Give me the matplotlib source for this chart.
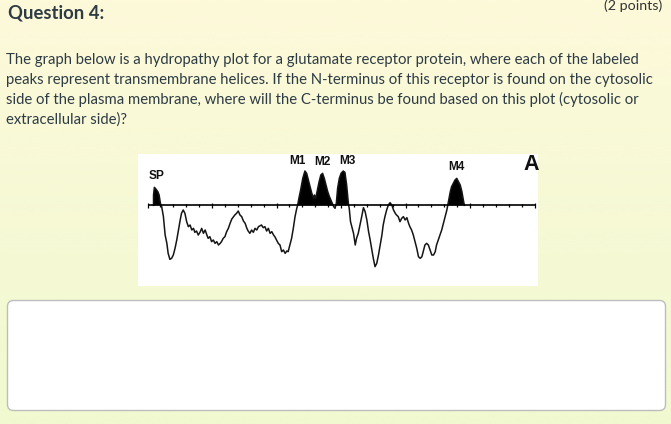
import numpy as np
import matplotlib
matplotlib.use("Agg")
import matplotlib.pyplot as plt
from matplotlib.patches import FancyBboxPatch

# ---------------- data ----------------
residue = [14, 14, 16, 20, 24, 27, 30, 33, 37, 41, 45, 48, 52, 56, 60, 64, 68, 72, 76, 79,
           83, 87, 91, 95, 99, 103, 107, 110, 114, 118, 122, 126, 130, 134, 138, 141, 145, 149,
           153, 157, 161, 165, 169, 172, 176, 180, 184, 188, 192, 196, 200, 203, 207, 211, 215,
           219, 223, 227, 231, 234, 238, 242, 246, 250, 254, 258, 262, 265, 269, 273, 277, 281,
           285, 289, 293, 296, 300, 304, 308, 312, 316, 320, 324, 327, 331, 335, 339, 343, 347,
           349, 352, 356, 361, 366, 370, 374, 378, 382, 386, 388, 391, 395, 399, 403, 407, 411,
           415, 419, 423, 428, 433, 436, 439, 442, 446, 450, 455, 459, 463, 467, 469, 472, 475,
           479, 483, 486, 490, 494, 498, 502, 506, 510, 514, 517, 521, 525, 529, 533, 537, 541,
           545, 548, 552, 556, 560, 564, 568, 572, 576, 579, 583, 587, 591, 595, 599, 603, 607,
           610, 614, 618, 622, 626, 630, 634, 638, 641, 645, 649, 653, 657, 661, 665, 669, 672,
           676, 680, 684, 688, 692, 696, 698, 704, 707, 711, 715, 719, 723, 727, 731, 735, 737]
hydropathy = [0.0, 3.1, 5.4, 4.8, 4.1, 3.1, 0.6, -0.4, -3.4, -8.9, -11.4, -14.4, -16.2, -15.9,
              -14.9, -12.9, -10.4, -7.4, -4.4, -2.4, -1.4, -2.4, -4.9, -6.4, -5.9, -7.4, -6.9,
              -8.1, -7.7, -8.9, -8.1, -6.9, -8.4, -7.4, -8.9, -9.9, -9.4, -10.9, -10.4, -11.4,
              -10.9, -11.9, -11.4, -10.9, -9.9, -9.4, -7.9, -6.9, -5.4, -4.1, -3.4, -2.9, -2.4,
              -1.7, -2.9, -3.4, -4.7, -5.4, -6.9, -7.7, -8.4, -7.4, -8.1, -6.9, -7.4, -6.4, -6.1,
              -5.9, -6.7, -6.4, -7.7, -6.9, -8.4, -7.9, -8.9, -9.4, -10.4, -11.4, -11.9, -13.9,
              -13.4, -14.4, -13.7, -13.9, -11.9, -9.9, -6.9, -3.4, -0.9, 0.0, 2.1, 4.6, 8.1,
              10.3, 9.6, 7.6, 5.6, 3.6, 2.1, 3.1, 2.1, 4.6, 7.1, 9.1, 9.6, 8.1, 6.1, 4.1, 2.6,
              1.1, -0.4, -0.9, 0.6, 5.1, 8.1, 9.6, 10.3, 9.9, 6.1, 0.6, -0.9, -4.9, -6.4, -8.4,
              -11.9, -9.9, -8.4, -5.9, -3.4, -0.7, -1.9, -4.4, -7.9, -9.9, -12.9, -15.9, -18.4,
              -17.4, -14.9, -11.9, -8.9, -5.9, -3.4, -1.4, 0.1, 0.8, 0.1, -1.4, -2.4, -2.9, -3.4,
              -4.9, -3.9, -3.4, -4.4, -3.7, -5.4, -6.4, -7.4, -8.9, -10.9, -12.9, -15.4, -15.9,
              -15.4, -13.9, -11.9, -11.4, -11.9, -13.4, -14.9, -14.9, -13.9, -11.9, -10.4, -8.9,
              -7.4, -5.4, -3.4, -1.4, 0.0, 4.1, 5.6, 6.6, 7.6, 8.1, 7.1, 6.1, 4.1, 1.1, 0.0]

peak_labels = ["SP", "M1", "M2", "M3", "M4"]
peak_label_res = [21, 349, 407, 464, 719]
peak_label_h = [8.8, 13.3, 13.0, 13.2, 11.4]

axis_length = 900
tick_step = 30
major_step = 150

title = "Question 4:"
points_text = "(2 points)"
body_lines = [
    "The graph below is a hydropathy plot for a glutamate receptor protein, where each of the labeled",
    "peaks represent transmembrane helices. If the N-terminus of this receptor is found on the cytosolic",
    "side of the plasma membrane, where will the C-terminus be found based on this plot (cytosolic or",
    "extracellular side)?",
]

# ---------------- figure ----------------
W, H = 671, 424
fig = plt.figure(figsize=(W / 100, H / 100), dpi=100)
body_font = "Lato"

bg = fig.add_axes([0, 0, 1, 1], zorder=0)
top = np.array([253, 249, 218]) / 255
bot = np.array([240, 249, 208]) / 255
t = np.linspace(0, 1, 256)[:, None]
grad = (top[None, :] * (1 - t) + bot[None, :] * t)[:, None, :]
bg.imshow(grad, aspect="auto", extent=[0, W, H, 0], interpolation="bilinear")
bg.set_xlim(0, W)
bg.set_ylim(H, 0)
bg.axis("off")

# answer box
box = FancyBboxPatch((7.5, 300.5), 658, 110, boxstyle="round,pad=0,rounding_size=6",
                     facecolor="white", edgecolor="#bdbdbd", linewidth=1.0)
bg.add_patch(box)

txt_color = "#2d3b45"
renderer = fig.canvas.get_renderer()


def fit_text(x, y, s, target_w, **kw):
    tt = bg.text(x, y, s, fontsize=12, **kw)
    w = tt.get_window_extent(renderer).width
    tt.set_fontsize(12 * target_w / w)
    return tt


fit_text(8.5, 18.5, title, 95.5, family="Lato", weight="bold", color=txt_color,
         va="baseline", ha="left")
fit_text(604, 10, points_text, 58, family="Lato", color="#333333", va="baseline", ha="left")

t1 = fit_text(6.5, 64, body_lines[0], 634, family=body_font, color=txt_color,
              va="baseline", ha="left")
fs = t1.get_fontsize()
for i, line in enumerate(body_lines[1:], start=1):
    bg.text(6.5, 64 + 20 * i, line, fontsize=fs, family=body_font, color=txt_color,
            va="baseline", ha="left")

# ---------------- hydropathy plot ----------------
ax = fig.add_axes([138 / W, 1 - 286 / H, 400 / W, 132 / H], zorder=2)
ax.set_facecolor("white")
for sp in ax.spines.values():
    sp.set_visible(False)
ax.set_xticks([])
ax.set_yticks([])
ax.set_xlim(-22.1, 907.9)
ax.set_ylim(-24.2, 15.4)

r = np.array(residue, dtype=float)
h = np.array(hydropathy, dtype=float)
ax.fill_between(r, 0, h, where=h >= 0, interpolate=True, color="black", linewidth=0)
ax.plot(r, h, color="#151515", lw=1.1)
ax.hlines(0, 0, axis_length, color="black", lw=1.2)
ticks = np.arange(0, axis_length + 1, tick_step)
for tk in ticks:
    half = 0.8 if tk % major_step == 0 else 0.5
    ax.vlines(tk, -half, half, color="black", lw=0.9)

for lab, xr, yh in zip(peak_labels, peak_label_res, peak_label_h):
    ax.text(xr, yh, lab, ha="center", va="center", fontsize=8.6,
            family="Liberation Sans", weight="bold", color="#111111")
ax.text(892, 12.25, "A", ha="center", va="center", fontsize=15.5,
        family="Liberation Sans", weight="bold", color="#111111")

fig.savefig("out.png", dpi=100)
